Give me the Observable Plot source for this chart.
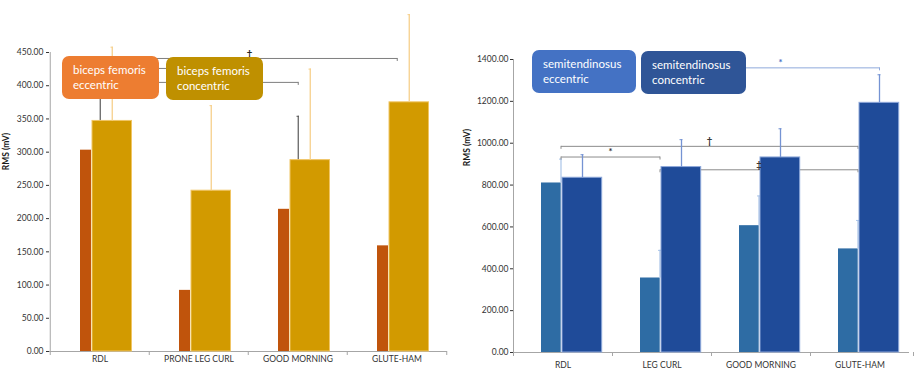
<!DOCTYPE html>
<html><head><meta charset="utf-8">
<script src="https://cdn.jsdelivr.net/npm/d3@7"></script>
<script src="https://cdn.jsdelivr.net/npm/@observablehq/plot@0.6"></script>
<style>
body{margin:0;background:#fff;font-family:Lato,sans-serif}
#wrap{position:relative;width:924px;height:374px;overflow:hidden;background:#fff}
.panel{position:absolute;top:0}
.leg{position:absolute;color:#fff;font-family:Lato,sans-serif;font-size:11.5px;line-height:14.5px;border-radius:7px;box-sizing:border-box;padding-left:11px;display:flex;flex-direction:column;justify-content:center}
</style></head><body><div id="wrap"></div>
<script>
// ---- biceps femoris (left) ----
const bfCategories = ["RDL", "PRONE LEG CURL", "GOOD MORNING", "GLUTE-HAM"];
const bfEccentric = [303, 92, 214, 159];
const bfEccentricErr = [420, 200, 354, 300];
const bfConcentric = [347, 242, 288, 375];
const bfConcentricErr = [458, 370, 425, 507];
const bfTicks = [0, 50, 100, 150, 200, 250, 300, 350, 400, 450];
const bfBrackets = [
  {a: "RDL", b: "GLUTE-HAM", y: 441, sym: "†", side: "ecc"},
  {a: "RDL", b: "PRONE LEG CURL", y: 426, sym: "", side: "ecc"},
  {a: "RDL", b: "GOOD MORNING", y: 405, sym: "", side: "ecc"}
];
const bfLegend = ["biceps femoris eccentric", "biceps femoris concentric"];

// ---- semitendinosus (right) ----
const stCategories = ["RDL", "LEG CURL", "GOOD MORNING", "GLUTE-HAM"];
const stEccentric = [810, 356, 606, 495];
const stEccentricErr = [924, 488, 748, 631];
const stConcentric = [835, 886, 932, 1193];
const stConcentricErr = [945, 1017, 1069, 1327];
const stTicks = [0, 200, 400, 600, 800, 1000, 1200, 1400];
const stBrackets = [
  {a: "RDL", b: "GLUTE-HAM", y: 985, sym: "†", side: "ecc"},
  {a: "RDL", b: "LEG CURL", y: 934, sym: "*", side: "ecc"},
  {a: "LEG CURL", b: "GLUTE-HAM", y: 873, sym: "‡", side: "ecc"},
  {a: "LEG CURL", b: "GLUTE-HAM", y: 1360, sym: "*", side: "con"}
];
const stLegend = ["semitendinosus eccentric", "semitendinosus concentric"];

const axisLabel = "RMS (mV)";

function panel(cfg) {
  const {cats, ecc, eccErr, con, conErr, ticks, brackets, width, height, mL, mR, mT, mB,
         eccBand, conBand, eccC, conC, col, labelDx, labelPy, xPad, yPad, axisExtra} = cfg;
  const ymax = ticks[ticks.length - 1];
  const bw = (width - mL - mR) / cats.length;
  const k = (height - mT - mB) / ymax;
  const rows = cats.map((c, i) => ({cat: c, ecc: ecc[i], eccErr: eccErr[i], con: con[i], conErr: conErr[i]}));
  const idx = new Map(cats.map((c, i) => [c, i]));
  const drop = 3 / k;
  const labelVal = (height - mB - labelPy) / k;
  const marks = [];
  const last = cats[cats.length - 1];
  // x axis line and boundary ticks
  marks.push(Plot.link([last], {x1: cats[0], x2: d => d, y1: 0, y2: 0, dx: 0, stroke: col.axis}));
  marks.push(Plot.link([last], {x1: d => d, x2: d => d, y1: 0, y2: 0, stroke: col.axis}));
  marks.push(Plot.ruleY([0], {stroke: col.axis}));
  marks.push(Plot.link([last], {x1: d => d, x2: d => d, y1: 0, y2: 0, dx: bw / 2 + axisExtra, stroke: col.axis, insetLeft: 0}));
  marks.push(Plot.ruleX(cats, {x: d => d, y1: 0, y2: -4 / k, dx: -bw / 2, stroke: col.axis}));
  marks.push(Plot.ruleX([last], {x: d => d, y1: 0, y2: -4 / k, dx: bw / 2 + axisExtra, stroke: col.axis}));
  // y axis line
  marks.push(Plot.ruleX([cats[0]], {x: d => d, y1: 0, y2: ymax, dx: -bw / 2, stroke: col.axis}));
  // eccentric bars + error
  marks.push(Plot.barY(rows, {x: "cat", y: "ecc", fill: col.ecc, insetLeft: eccBand[0], insetRight: bw - eccBand[1]}));
  marks.push(Plot.ruleX(rows, {x: "cat", y1: "ecc", y2: "eccErr", dx: eccC - bw / 2, stroke: col.eccErr, strokeWidth: 1.2}));
  marks.push(Plot.tickY(rows, {x: "cat", y: "eccErr", insetLeft: eccC - 1.5, insetRight: bw - eccC - 1.5, stroke: col.eccErr}));
  // bracket lines
  const symMarks = [];
  for (const side of ["ecc", "con"]) {
    const pos = side === "ecc" ? eccC : conC;
    const stroke = side === "ecc" ? col.bracket : col.bracketCon;
    const fill = side === "ecc" ? col.sym : col.symCon;
    const f = d => d.side === side;
    marks.push(Plot.link(brackets, {filter: f, x1: "a", x2: "b", y1: "y", y2: "y", dx: pos - bw / 2, stroke}));
    marks.push(Plot.ruleX(brackets, {filter: f, x: "a", y1: "y", y2: d => d.y - drop, dx: pos - bw / 2, stroke}));
    marks.push(Plot.ruleX(brackets, {filter: f, x: "b", y1: "y", y2: d => d.y - drop, dx: pos - bw / 2, stroke}));
    for (const b of brackets.filter(f)) {
      const mid = (idx.get(b.b) - idx.get(b.a)) * bw / 2;
      symMarks.push(Plot.text([b], {x: "a", y: "y", text: "sym", dx: pos - bw / 2 + mid, dy: -5, fill, fontSize: 9.5, fontWeight: "bold"}));
    }
  }
  // concentric bars + error
  marks.push(Plot.barY(rows, {x: "cat", y: "con", fill: col.con, stroke: col.conStroke, strokeWidth: 1, insetLeft: conBand[0], insetRight: bw - conBand[1]}));
  marks.push(Plot.ruleX(rows, {x: "cat", y1: "con", y2: "conErr", dx: conC - bw / 2, stroke: col.conErr, strokeWidth: 1.3}));
  marks.push(Plot.tickY(rows, {x: "cat", y: "conErr", insetLeft: conC - 1.5, insetRight: bw - conC - 1.5, stroke: col.conErr}));
  marks.push(...symMarks);
  // y axis title
  marks.push(Plot.text([axisLabel], {frameAnchor: "left", y: () => labelVal, text: d => d, rotate: -90, textAnchor: "middle", dx: labelDx, fontWeight: "bold", fontSize: 8.5, fill: "#1a1a1a"}));
  return Plot.plot({
    width, height, marginLeft: mL, marginRight: mR, marginTop: mT, marginBottom: mB,
    style: {fontFamily: "Lato, sans-serif", fontSize: "8.5px", color: "#333", background: "transparent", overflow: "visible"},
    x: {domain: cats, padding: 0, tickSize: 0, tickPadding: xPad, label: null},
    y: {domain: [0, ymax], ticks, tickFormat: d3.format(".2f"), tickSize: 3, tickPadding: yPad, label: null},
    marks
  });
}

const wrap = document.getElementById("wrap");
function addPanel(el, left) {
  const d = document.createElement("div");
  d.className = "panel";
  d.style.left = left + "px";
  d.appendChild(el);
  wrap.appendChild(d);
}
addPanel(panel({
  cats: bfCategories, ecc: bfEccentric, eccErr: bfEccentricErr, con: bfConcentric, conErr: bfConcentricErr,
  ticks: bfTicks, brackets: bfBrackets, width: 460, height: 374, mL: 49, mR: 13, mT: 52, mB: 23,
  eccBand: [30, 41.5], conBand: [42, 82], eccC: 50, conC: 62, axisExtra: 0,
  col: {axis: "#a6a6a6", ecc: "#C0540C", con: "#D29A00", conStroke: "#F0C565", eccErr: "#5a5a5a", conErr: "#F6D08C",
        bracket: "#7f7f7f", bracketCon: "#7f7f7f", sym: "#222", symCon: "#222"},
  labelDx: -43.5, labelPy: 151, xPad: 4, yPad: 3
}), 0);
addPanel(panel({
  cats: stCategories, ecc: stEccentric, eccErr: stEccentricErr, con: stConcentric, conErr: stConcentricErr,
  ticks: stTicks, brackets: stBrackets, width: 464, height: 374, mL: 53, mR: 15, mT: 59, mB: 22,
  eccBand: [28, 47.7], conBand: [49, 88.7], eccC: 47.5, conC: 69, axisExtra: 4,
  col: {axis: "#a6a6a6", ecc: "#2E6CA4", con: "#1F4B99", conStroke: "#8EA8DA", eccErr: "#A9C4E8", conErr: "#7593D3",
        bracket: "#8c8c8c", bracketCon: "#8FAADC", sym: "#333", symCon: "#4472C4"},
  labelDx: -46.3, labelPy: 147, xPad: 9, yPad: 2
}), 460);

// legend boxes
function legendBox(text, left, top, w, h, bg) {
  const d = document.createElement("div");
  d.className = "leg";
  Object.assign(d.style, {left: left + "px", top: top + "px", width: w + "px", height: h + "px", background: bg});
  const words = text.split(" ");
  const lastWord = words.pop();
  d.innerHTML = "<div>" + words.join(" ") + "</div><div>" + lastWord + "</div>";
  wrap.appendChild(d);
}
legendBox(bfLegend[0], 62, 56, 97, 43, "#ED7D31");
legendBox(bfLegend[1], 166, 57, 97, 43, "#BF9000");
legendBox(stLegend[0], 532, 50, 104, 43, "#4472C4");
legendBox(stLegend[1], 641, 51, 105, 43, "#2F5597");
</script></body></html>
